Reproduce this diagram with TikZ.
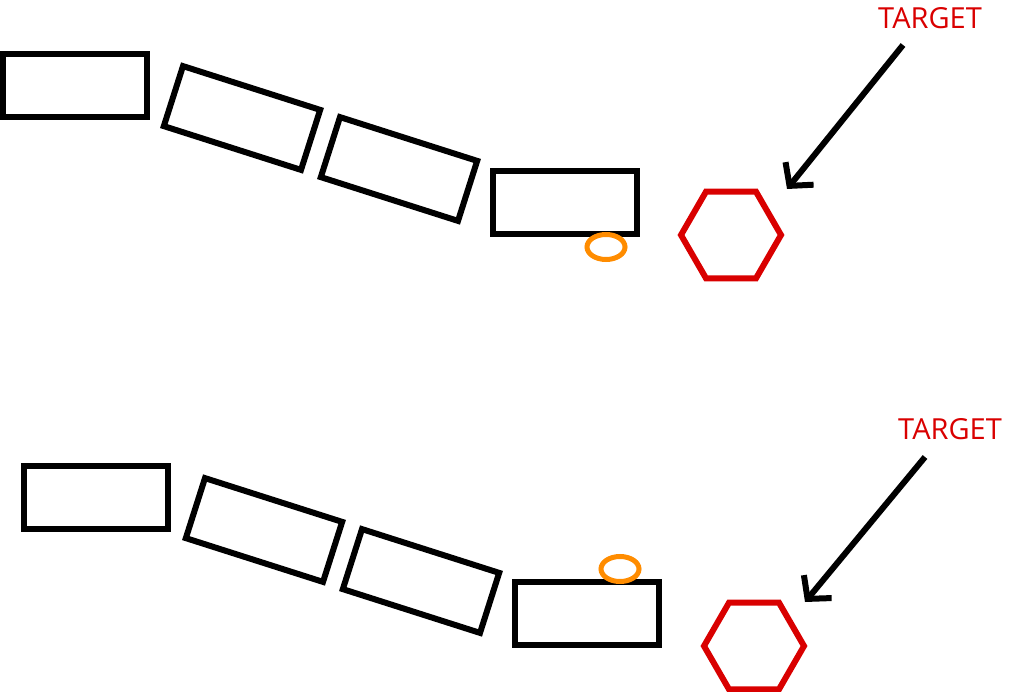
\documentclass[tikz,border=0pt]{standalone}
\usepackage{fontspec}
\setmainfont{Open Sans}
\usetikzlibrary{shapes.geometric,arrows.meta}
\begin{document}
\begin{tikzpicture}[x=1pt,y=-1pt,
  blk/.style={draw=black,line width=6pt,minimum width=144pt,minimum height=63pt,inner sep=0pt},
  tgt/.style={draw=red!85!black,line width=6pt,regular polygon,regular polygon sides=6,minimum size=100pt,inner sep=0pt},
  ring/.style={draw=orange!90!yellow,line width=5pt,ellipse,minimum width=38pt,minimum height=25pt,inner sep=0pt},
  lbl/.style={text=red!85!black,font=\fontsize{29}{34}\selectfont},
  arr/.style={line width=6pt,-{Straight Barb[length=16pt,width=36pt,line width=6pt]}}]
\useasboundingbox (0,0) rectangle (1024,692);
% top
\node[blk] (a1) at (75,86) {};
\node[blk,rotate=-17.7] (a2) at (242,118) {};
\node[blk,rotate=-17.7] (a3) at (399,169) {};
\node[blk] (a4) at (565,203) {};
\node[ring] (ao) at (606,247) {};
\node[tgt] (ah) at (731,235) {};
\node[lbl] (at) at (930,18) {TARGET};
\coordinate (as) at (903,45);
\coordinate (ae) at (787,189);
\draw[arr] (as) -- (ae);
% bottom
\node[blk] (b1) at (96,497) {};
\node[blk,rotate=-17.7] (b2) at (264,530) {};
\node[blk,rotate=-17.7] (b3) at (421,581) {};
\node[blk] (b4) at (587,613) {};
\node[ring] (bo) at (620,569) {};
\node[tgt] (bh) at (754,646) {};
\node[lbl] (bt) at (950,429) {TARGET};
\coordinate (bs) at (925,457);
\coordinate (be) at (805,602);
\draw[arr] (bs) -- (be);
\end{tikzpicture}
\end{document}
